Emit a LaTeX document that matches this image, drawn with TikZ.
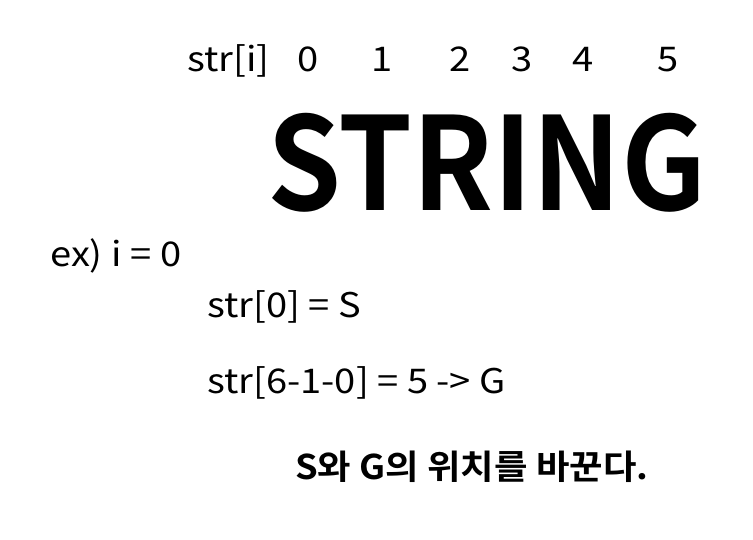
\documentclass[tikz,border=0pt]{standalone}
\usepackage{fontspec}
\setmainfont{Noto Sans CJK KR}
\newfontfamily\widefont[FakeStretch=1.12]{Noto Sans CJK KR}
\newfontfamily\boldwide[FakeStretch=1.07]{Noto Sans CJK KR Bold}
\newfontfamily\bignarrow[FakeStretch=0.92]{Noto Sans CJK KR Bold}
\usepackage{tikz}

\begin{document}
\begin{tikzpicture}[x=1pt,y=-1pt,
  txt/.style={anchor=base west,inner sep=0pt,font=\widefont\fontsize{34}{40}\selectfont},
  idx/.style={anchor=base,inner sep=0pt,font=\widefont\fontsize{34}{40}\selectfont}]

\useasboundingbox (0,0) rectangle (753,540);

% Index row
\node[txt] (lbl) at (187,72) {str[i]};
\foreach \i/\x in {0/308,1/382,2/460,3/522,4/583,5/668}
  \node[idx] (d\i) at (\x,72) {\i};

% The word
\node[anchor=base west,inner sep=0pt,font=\bignarrow\fontsize{129}{140}\selectfont] (word) at (267,211) {STRING};

% Example lines
\node[txt] (ex) at (50,267) {ex) i = 0};
\node[txt] (first) at (207,318) {str[0] = S};
\node[txt] (last) at (207,393) {str[6-1-0] = 5 -> G};

% Conclusion
\node[anchor=base west,inner sep=0pt,font=\boldwide\fontsize{34}{40}\selectfont] (swap) at (295,479) {S와 G의 위치를 바꾼다.};

\end{tikzpicture}
\end{document}
